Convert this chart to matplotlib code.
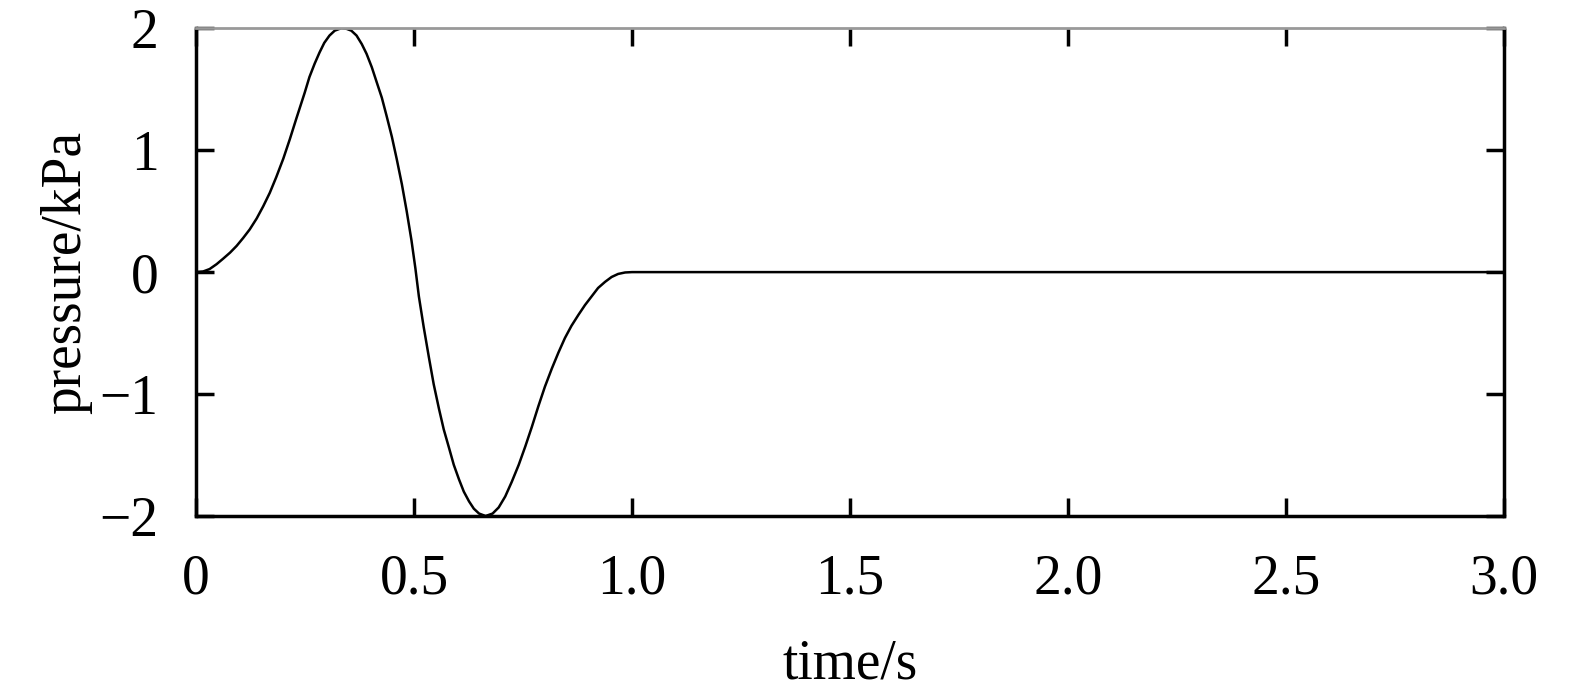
import matplotlib
matplotlib.use("Agg")
import matplotlib.pyplot as plt

plt.rcParams['font.family'] = ['Liberation Serif', 'DejaVu Serif']

# values (time in s, pressure in kPa)
time_s = [0.0, 0.016, 0.031, 0.047, 0.062, 0.078, 0.093, 0.108, 0.123, 0.139,
          0.154, 0.169, 0.184, 0.200, 0.215, 0.230, 0.249, 0.260, 0.272, 0.283,
          0.294, 0.306, 0.318, 0.333, 0.345, 0.356, 0.368, 0.380, 0.391, 0.403,
          0.414, 0.426, 0.437, 0.449, 0.460, 0.472, 0.483, 0.494, 0.503, 0.511,
          0.522, 0.534, 0.545, 0.557, 0.568, 0.580, 0.591, 0.603, 0.614, 0.626,
          0.637, 0.649, 0.664, 0.680, 0.694, 0.709, 0.724, 0.740, 0.755, 0.770,
          0.785, 0.800, 0.816, 0.831, 0.846, 0.861, 0.877, 0.892, 0.907, 0.922,
          0.938, 0.953, 0.968, 0.984, 1.0, 3.0]
pressure_kpa = [0.0, 0.005, 0.025, 0.065, 0.11, 0.16, 0.215, 0.28, 0.35, 0.44,
                0.54, 0.65, 0.78, 0.93, 1.09, 1.26, 1.47, 1.60, 1.71, 1.80,
                1.88, 1.94, 1.98, 2.0, 1.995, 1.98, 1.94, 1.87, 1.79, 1.68,
                1.56, 1.43, 1.28, 1.11, 0.93, 0.72, 0.50, 0.26, 0.03, -0.20,
                -0.45, -0.70, -0.92, -1.12, -1.29, -1.44, -1.58, -1.70, -1.80, -1.88,
                -1.94, -1.98, -2.0, -1.98, -1.93, -1.84, -1.72, -1.58, -1.43, -1.27,
                -1.10, -0.94, -0.79, -0.66, -0.54, -0.44, -0.35, -0.27, -0.20, -0.13,
                -0.08, -0.04, -0.015, -0.003, 0.0, 0.0]

x_ticks = [0, 0.5, 1.0, 1.5, 2.0, 2.5, 3.0]
x_tick_labels = ["0", "0.5", "1.0", "1.5", "2.0", "2.5", "3.0"]
y_ticks = [-2, -1, 0, 1, 2]
y_tick_labels = ["\u22122", "\u22121", "0", "1", "2"]

fig = plt.figure(figsize=(15.75, 6.88), dpi=100)
ax = fig.add_axes([0.1245, 0.25, 0.8305, 0.709])

ax.plot(time_s, pressure_kpa, color="black", linewidth=1.8)

ax.set_xlim(0, 3.0)
ax.set_ylim(-2, 2)
ax.set_xticks(x_ticks)
ax.set_xticklabels(x_tick_labels)
ax.set_yticks(y_ticks)
ax.set_yticklabels(y_tick_labels)

ax.tick_params(direction="in", length=13, width=2.5, labelsize=40,
               top=True, right=True)
ax.tick_params(axis="x", pad=27)
ax.tick_params(axis="y", pad=27)

for side in ["left", "bottom", "right"]:
    ax.spines[side].set_linewidth(2.5)
    ax.spines[side].set_color("black")
ax.spines["top"].set_linewidth(2)
ax.spines["top"].set_color("#999999")

ax.set_xlabel("time/s", fontsize=40, labelpad=24)
ax.set_ylabel("pressure/kPa", fontsize=40, labelpad=5)

fig.savefig("out.png", dpi=100)
